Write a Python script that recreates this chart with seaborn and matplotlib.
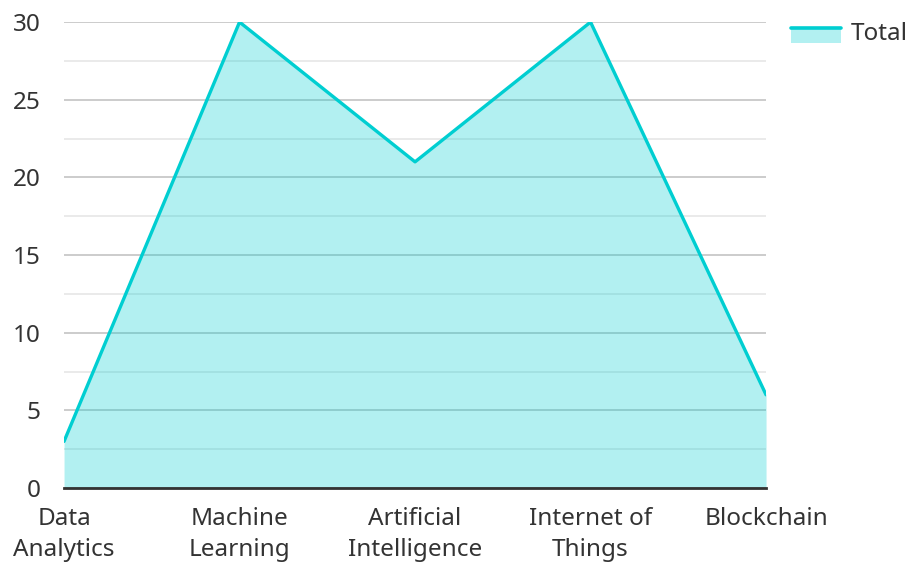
import pandas as pd
import matplotlib
matplotlib.use('Agg')
import matplotlib.pyplot as plt
import seaborn as sns
from matplotlib.patches import Rectangle
from matplotlib.lines import Line2D
from matplotlib.legend_handler import HandlerBase
from matplotlib.ticker import MultipleLocator

categorias = ['Data\nAnalytics', 'Machine\nLearning', 'Artificial\nIntelligence', 'Internet of\nThings', 'Blockchain']
totales = [3, 30, 21, 30, 6]

sns.set_style('white')
plt.rcParams['font.family'] = ['Noto Sans', 'DejaVu Sans']

df = pd.DataFrame({'pos': range(len(categorias)), 'Total': totales})

color_linea = '#00ced1'


# handle del legend: linea arriba con el area debajo
class HandlerArea(HandlerBase):
    def create_artists(self, legend, orig_handle, xdescent, ydescent, width, height, fontsize, trans):
        y_top = height * 0.75
        rect = Rectangle((-xdescent, -ydescent - height * 0.15), width, y_top + height * 0.15,
                         facecolor=color_linea, alpha=0.3, edgecolor='none', transform=trans)
        linea = Line2D([-xdescent, -xdescent + width], [y_top, y_top], color=color_linea,
                       linewidth=2.6, transform=trans)
        return [rect, linea]


fig = plt.figure(figsize=(9.07, 5.62), dpi=100)
ax = fig.add_axes([0.0706, 0.1317, 0.774, 0.829])

ax.fill_between(df['pos'], df['Total'], color=color_linea, alpha=0.3, linewidth=0, zorder=2)
sns.lineplot(data=df, x='pos', y='Total', color=color_linea, linewidth=2.4, ax=ax, zorder=3)

ax.set_xlim(0, len(categorias) - 1)
ax.set_ylim(0, 30)
ax.yaxis.set_major_locator(MultipleLocator(5))
ax.yaxis.set_minor_locator(MultipleLocator(2.5))
ax.grid(which='major', axis='y', color='#c4c4c4', linewidth=1.2, zorder=1)
ax.grid(which='minor', axis='y', color='#e6e6e6', linewidth=1.2, zorder=1)
ax.set_xticks(df['pos'])
ax.set_xticklabels(categorias, linespacing=1.36)
ax.tick_params(axis='both', length=0, labelsize=17.5, labelcolor='#333333')
ax.tick_params(axis='x', pad=14)
ax.tick_params(axis='y', pad=17)
ax.set_xlabel('')
ax.set_ylabel('')

for lado in ['left', 'right', 'top']:
    ax.spines[lado].set_visible(False)
ax.spines['bottom'].set_color('#333333')
ax.spines['bottom'].set_linewidth(2)
ax.spines['bottom'].set_zorder(4)

handle = Line2D([0], [0], color=color_linea)
leg = fig.legend([handle], ['Total'], loc='upper left', bbox_to_anchor=(0.872, 0.96),
                 frameon=False, fontsize=17.5, handlelength=2.05, handletextpad=0.4,
                 borderpad=0, borderaxespad=0,
                 labelcolor='#333333', handler_map={Line2D: HandlerArea()})

fig.savefig('out.png', dpi=100)
